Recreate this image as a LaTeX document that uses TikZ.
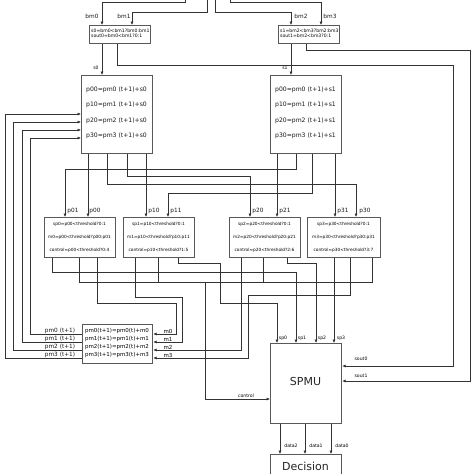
\documentclass[tikz,border=0pt]{standalone}
\usepackage{fontspec}
\setmainfont{DejaVu Sans}
\usetikzlibrary{arrows.meta}
\begin{document}
\begin{tikzpicture}[x=1pt,y=-1pt,
  wire/.style={draw=black!80,line width=0.8pt},
  arr/.style={-{Latex[length=3.5pt,width=3.2pt]}},
  blk/.style={draw=black!65,line width=1.2pt,fill=white,anchor=north west,inner sep=0pt},
  tS/.style={font=\fontsize{4.6}{5.4}\selectfont,inner sep=0pt,anchor=west,text=black},
  tP/.style={font=\fontsize{6.1}{7}\selectfont,inner sep=0pt,text=black!90},
  tA/.style={font=\fontsize{4.3}{5}\selectfont,inner sep=0pt,text=black},
  tU/.style={font=\fontsize{5.5}{6.5}\selectfont,inner sep=0pt,text=black},
  lab/.style={font=\fontsize{5.8}{6.5}\selectfont,inner sep=0pt,text=black!90},
  slab/.style={font=\fontsize{4.6}{5.5}\selectfont,inner sep=0pt,text=black},
  big/.style={font=\fontsize{11}{13}\selectfont,inner sep=0pt,text=black!85}]
\useasboundingbox (0,0) rectangle (474,474);
% blocks
\node[blk,minimum width=61pt,minimum height=18pt] (S0) at (89,25) {};
\node[blk,minimum width=61pt,minimum height=18pt] (S1) at (278,25) {};
\node[blk,minimum width=71pt,minimum height=78pt] (P0) at (81,75) {};
\node[blk,minimum width=71pt,minimum height=78pt] (P1) at (270,75) {};
\node[blk,minimum width=71pt,minimum height=40pt] (A0) at (44,217) {};
\node[blk,minimum width=71pt,minimum height=40pt] (A1) at (123,217) {};
\node[blk,minimum width=71pt,minimum height=40pt] (A2) at (229,217) {};
\node[blk,minimum width=73pt,minimum height=40pt] (A3) at (307,217) {};
\node[blk,minimum width=70pt,minimum height=39pt] (PMU) at (82,324) {};
\node[blk,minimum width=71pt,minimum height=80pt] (SPMU) at (270,343) {};
\node[blk,minimum width=71pt,minimum height=34pt] (DEC) at (270,454) {};
% block texts
\node[tS] (S0a) at (91,31) {s0=bm0<bm1?bm0:bm1};
\node[tS] (S0b) at (91,36) {sout0=bm0<bm1?0:1};
\node[tS] (S1a) at (280,31) {s1=bm2<bm3?bm2:bm3};
\node[tS] (S1b) at (280,36) {sout1=bm2<bm3?0:1};
\node[tP] (P0a) at (116.5,90) {p00=pm0 (t+1)+s0};
\node[tP] (P0b) at (116.5,105) {p10=pm1 (t+1)+s0};
\node[tP] (P0c) at (116.5,121) {p20=pm2 (t+1)+s0};
\node[tP] (P0d) at (116.5,136) {p30=pm3 (t+1)+s0};
\node[tP] (P1a) at (305.5,90) {p00=pm0 (t+1)+s1};
\node[tP] (P1b) at (305.5,105) {p10=pm1 (t+1)+s1};
\node[tP] (P1c) at (305.5,121) {p20=pm2 (t+1)+s1};
\node[tP] (P1d) at (305.5,136) {p30=pm3 (t+1)+s1};
\node[tA] (A0a) at (79.5,224) {sp0=p00<threshold?0:1};
\node[tA] (A0b) at (79.5,237) {m0=p00<threshold?p00:p01};
\node[tA] (A0c) at (79.5,250) {control=p00<threshold?0:4};
\node[tA] (A1a) at (158.5,224) {sp1=p10<threshold?0:1};
\node[tA] (A1b) at (158.5,237) {m1=p10<threshold?p10:p11};
\node[tA] (A1c) at (158.5,250) {control=p10<threshold?1:5};
\node[tA] (A2a) at (264.5,224) {sp2=p20<threshold?0:1};
\node[tA] (A2b) at (264.5,237) {m2=p20<threshold?p20:p21};
\node[tA] (A2c) at (264.5,250) {control=p20<threshold?2:6};
\node[tA] (A3a) at (343.5,224) {sp3=p30<threshold?0:1};
\node[tA] (A3b) at (343.5,237) {m3=p30<threshold?p30:p31};
\node[tA] (A3c) at (343.5,250) {control=p30<threshold?3:7};
\node[tU] (U0) at (117,331) {pm0(t+1)=pm0(t)+m0};
\node[tU] (U1) at (117,339) {pm1(t+1)=pm1(t)+m1};
\node[tU] (U2) at (117,347) {pm2(t+1)=pm2(t)+m2};
\node[tU] (U3) at (117,355) {pm3(t+1)=pm3(t)+m3};
\node[big] (SPt) at (305.5,381) {SPMU};
\node[big] (DEt) at (305.5,466) {Decision};
% inputs from top
\coordinate (in0) at (185,0);
\coordinate (in1) at (207,0);
\coordinate (in2) at (215,0);
\coordinate (in3) at (230,0);
\draw[wire,arr] (in0) |- (102,2) -- (S0.north -| 102,0);
\draw[wire,arr] (in1) |- (132,12) -- (S0.north -| 132,0);
\draw[wire,arr] (in2) |- (291,12) -- (S1.north -| 291,0);
\draw[wire,arr] (in3) |- (321,2) -- (S1.north -| 321,0);
\node[lab] (Lbm0) at (92,16) {bm0};
\node[lab] (Lbm1) at (124,16) {bm1};
\node[lab] (Lbm2) at (301,16) {bm2};
\node[lab] (Lbm3) at (330,16) {bm3};
% s and sout
\draw[wire,arr] (S0.south -| 102,0) -- (P0.north -| 102,0);
\draw[wire,arr] (S1.south -| 291,0) -- (P1.north -| 291,0);
\node[slab] (Ls0) at (96,68) {s0};
\node[slab] (Ls1) at (285,68) {s1};
\draw[wire,arr] (S0.south -| 117,0) |- (453,65) |- (SPMU.east |- 0,366);
\draw[wire,arr] (S1.south -| 306,0) |- (470,50) |- (SPMU.east |- 0,381);
\node[slab] (Lso0) at (361,359) {sout0};
\node[slab] (Lso1) at (361,376) {sout1};
% P outputs to ACS
\draw[wire,arr] (P0.south -| 88,0) -- (A0.north -| 88,0);
\draw[wire,arr] (P0.south -| 107,0) |- (356,184) -- (A3.north -| 356,0);
\draw[wire,arr] (P0.south -| 127,0) |- (250,176) -- (A2.north -| 250,0);
\draw[wire,arr] (P0.south -| 146,0) -- (A1.north -| 146,0);
\draw[wire,arr] (P1.south -| 277,0) -- (A2.north -| 277,0);
\draw[wire,arr] (P1.south -| 296,0) |- (65,169) -- (A0.north -| 65,0);
\draw[wire,arr] (P1.south -| 312,0) |- (168,193) -- (A1.north -| 168,0);
\draw[wire,arr] (P1.south -| 335,0) -- (A3.north -| 335,0);
\node[lab] (Lp01) at (73,211) {p01};
\node[lab] (Lp00) at (95,211) {p00};
\node[lab] (Lp10) at (154,211) {p10};
\node[lab] (Lp11) at (176,211) {p11};
\node[lab] (Lp20) at (258,211) {p20};
\node[lab] (Lp21) at (285,211) {p21};
\node[lab] (Lp31) at (343,211) {p31};
\node[lab] (Lp30) at (365,211) {p30};
% ACS outputs
\coordinate (cbus) at (205,282);
\draw[wire,arr] (A0.south -| 52,0) |- (296,272) -- (SPMU.north -| 296,0);
\draw[wire,arr] (A0.south -| 79,0) |- (cbus) |- (SPMU.west |- 0,399);
\draw[wire,arr] (A0.south -| 97,0) |- (176,303) |- (PMU.east |- 0,334);
\draw[wire,arr] (A1.south -| 135,0) |- (182,297) |- (PMU.east |- 0,342);
\draw[wire] (A1.south -| 158,0) -- (158,282);
\draw[wire,arr] (A1.south -| 178,0) |- (220,263) |- (277,303) -- (SPMU.north -| 277,0);
\draw[wire,arr] (A2.south -| 241,0) |- (PMU.east |- 0,350);
\draw[wire] (A2.south -| 263,0) -- (263,282);
\draw[wire,arr] (A2.south -| 287,0) |- (316,263) -- (SPMU.north -| 316,0);
\draw[wire,arr] (A3.south -| 334,0) -- (SPMU.north -| 334,0);
\draw[wire,arr] (A3.south -| 350,0) |- (248,295) |- (PMU.east |- 0,358);
\draw[wire] (A3.south -| 372,0) |- (cbus);
\node[slab] (Lsp0) at (283,338) {sp0};
\node[slab] (Lsp1) at (302,338) {sp1};
\node[slab] (Lsp2) at (322,338) {sp2};
\node[slab] (Lsp3) at (341,338) {sp3};
\node[slab] (Lctl) at (246,396) {control};
\node[tU] (Lm0) at (168,331) {m0};
\node[tU] (Lm1) at (168,339) {m1};
\node[tU] (Lm2) at (168,347) {m2};
\node[tU] (Lm3) at (168,355) {m3};
% pm feedback
\draw[wire,arr] (PMU.west |- 0,334) -| (30,138) -- (P0.west |- 0,138);
\draw[wire,arr] (PMU.west |- 0,342) -| (22,130) -- (P0.west |- 0,130);
\draw[wire,arr] (PMU.west |- 0,350) -| (13,122) -- (P0.west |- 0,122);
\draw[wire,arr] (PMU.west |- 0,358) -| (5,114) -- (P0.west |- 0,114);
\node[lab] (Lpm0) at (60,331) {pm0 (t+1)};
\node[lab] (Lpm1) at (60,339) {pm1 (t+1)};
\node[lab] (Lpm2) at (60,347) {pm2 (t+1)};
\node[lab] (Lpm3) at (60,355) {pm3 (t+1)};
% SPMU to Decision
\draw[wire,arr] (SPMU.south -| 280,0) -- (DEC.north -| 280,0);
\draw[wire,arr] (SPMU.south -| 305,0) -- (DEC.north -| 305,0);
\draw[wire,arr] (SPMU.south -| 331,0) -- (DEC.north -| 331,0);
\node[slab] (Ld2) at (291,446) {data2};
\node[slab] (Ld1) at (316,446) {data1};
\node[slab] (Ld0) at (342,446) {data0};
\end{tikzpicture}
\end{document}
